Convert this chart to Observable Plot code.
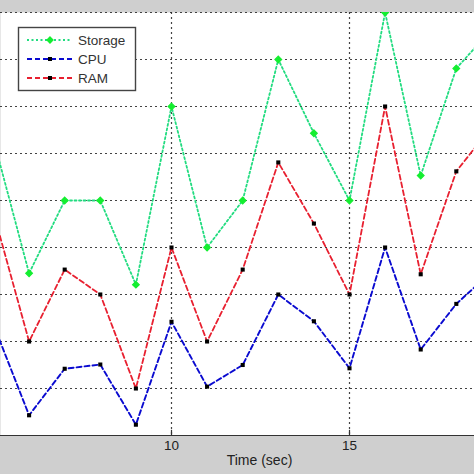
<!DOCTYPE html>
<html>
<head>
<meta charset="utf-8">
<script src="https://cdn.jsdelivr.net/npm/d3@7"></script>
<script src="https://cdn.jsdelivr.net/npm/@observablehq/plot@0.6"></script>
<style>
  html, body { margin: 0; padding: 0; background: #cfcfcf; }
  #chart svg { display: block; background: transparent; }
</style>
</head>
<body>
<div id="chart"></div>
<script>
const time    = [5, 6, 7, 8, 9, 10, 11, 12, 13, 14, 15, 16, 17, 18, 19];
const storage = [6.3, 3.45, 5.0, 5.0, 3.21, 7.0, 4.0, 5.0, 8.0, 6.43, 5.0, 9.0, 5.53, 7.81, 8.65];
const cpu     = [2.36, 0.43, 1.42, 1.51, 0.23, 2.42, 1.04, 1.5, 3.0, 2.43, 1.43, 4.0, 1.83, 2.8, 3.49];
const ram     = [4.74, 2.0, 3.53, 3.0, 1.0, 4.0, 2.0, 3.53, 5.81, 4.51, 3.0, 7.0, 3.43, 5.62, 6.58];
const xTicks  = [10, 15];
const yGrid   = [1, 2, 3, 4, 5, 6, 7, 8, 9];
const seriesNames = ["Storage", "CPU", "RAM"];
const xLabel = "Time (sec)";

const mk = (vals) => time.map((t, i) => ({t, v: vals[i]}));
const dStorage = mk(storage), dCpu = mk(cpu), dRam = mk(ram);

const cGreenLine = "#22dc80", cGreenMark = "#14ee30", cBlue = "#0a0ad0", cRed = "#e82030";
const font = "'Liberation Sans', Arial, sans-serif";

const plot = Plot.plot({
  width: 474, height: 474,
  marginTop: 12, marginBottom: 39, marginLeft: 0, marginRight: 0,
  style: {fontFamily: font, background: "transparent", overflow: "visible"},
  x: {domain: [5.197, 18.511], axis: null},
  y: {domain: [0, 9], axis: null},
  marks: [
    Plot.frame({fill: "white", stroke: "none"}),
    Plot.gridY(yGrid, {stroke: "#222", strokeOpacity: 0.85, strokeDasharray: "2,3", strokeWidth: 1.2}),
    Plot.gridX(xTicks, {stroke: "#222", strokeOpacity: 0.85, strokeDasharray: "2,3", strokeWidth: 1.2}),
    Plot.ruleY([0], {stroke: "#333", strokeWidth: 1.2}),
    Plot.ruleX(xTicks, {y1: 0, y2: 0.11, stroke: "#333", strokeWidth: 1.2}),
    Plot.axisX(xTicks, {tickSize: 0, tickPadding: 5, fontSize: 13.5, fill: "#222", label: null}),
    Plot.text([xLabel], {frameAnchor: "bottom", dx: 22, dy: 29, fontSize: 14, fill: "#222"}),
    Plot.line(dStorage, {x: "t", y: "v", stroke: cGreenLine, strokeWidth: 1.8, strokeDasharray: "2,2.5", clip: true}),
    Plot.line(dRam, {x: "t", y: "v", stroke: cRed, strokeWidth: 1.8, strokeDasharray: "5,3", clip: true}),
    Plot.line(dCpu, {x: "t", y: "v", stroke: cBlue, strokeWidth: 1.9, strokeDasharray: "5,3", clip: true}),
    Plot.dot(dStorage, {x: "t", y: "v", symbol: "diamond2", r: 3, fill: cGreenMark, stroke: cGreenMark, strokeWidth: 1.2, clip: true}),
    Plot.dot(dRam, {x: "t", y: "v", symbol: "square", r: 2.3, fill: "#000", stroke: "none", clip: true}),
    Plot.dot(dCpu, {x: "t", y: "v", symbol: "square", r: 2.3, fill: "#000", stroke: "none", clip: true})
  ]
});
document.getElementById("chart").appendChild(plot);

// Legend (inside the axes, top-left)
const svg = d3.select(plot);
const lg = svg.append("g").attr("font-family", font).attr("font-size", 13.5).attr("text-anchor", "start");
lg.append("rect").attr("x", 18.5).attr("y", 27.5).attr("width", 117).attr("height", 63)
  .attr("fill", "white").attr("stroke", "#444").attr("stroke-width", 1.4);
const legendItems = [
  {name: seriesNames[0], color: cGreenLine, dash: "2,2.5", marker: "diamond"},
  {name: seriesNames[1], color: cBlue, dash: "5,3", marker: "square"},
  {name: seriesNames[2], color: cRed, dash: "5,3", marker: "square"}
];
legendItems.forEach((it, i) => {
  const y = 40 + i * 19;
  lg.append("line").attr("x1", 27).attr("x2", 72).attr("y1", y).attr("y2", y)
    .attr("stroke", it.color).attr("stroke-width", 1.8).attr("stroke-dasharray", it.dash);
  if (it.marker === "diamond") {
    lg.append("path").attr("d", d3.symbol(d3.symbolDiamond2, 24)()).attr("transform", `translate(50,${y})`)
      .attr("fill", cGreenMark).attr("stroke", cGreenMark).attr("stroke-width", 1.2);
  } else {
    lg.append("rect").attr("x", 48).attr("y", y - 2).attr("width", 4).attr("height", 4).attr("fill", "#000");
  }
  lg.append("text").attr("x", 78).attr("y", y).attr("dy", "0.35em").attr("fill", "#333")
    .attr("text-anchor", "start").text(it.name);
});
</script>
</body>
</html>
